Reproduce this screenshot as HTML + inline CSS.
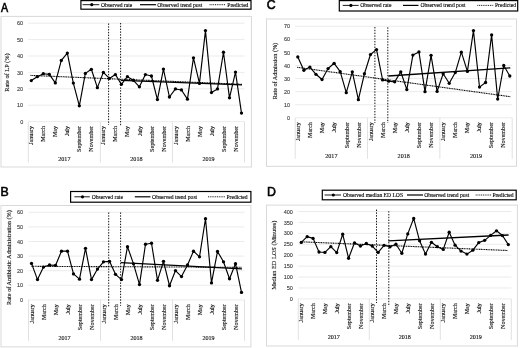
<!DOCTYPE html>
<html><head><meta charset="utf-8"><style>
html,body{margin:0;padding:0;background:#fff;width:520px;height:348px;overflow:hidden}
svg{display:block}
</style></head><body>
<svg width="520" height="348" viewBox="0 0 520 348">
<rect width="520" height="348" fill="#fff"/>
<g><rect x="1" y="16.4" width="250.4" height="150.6" fill="#fff" stroke="#d9d9d9" stroke-width="1"/><line x1="28.3" y1="121.6" x2="244.5" y2="121.6" stroke="#e3e3e3" stroke-width="0.7"/><text x="23.2" y="123.7" text-anchor="end" font-family='"Liberation Sans", Arial, sans-serif' font-size="5.5" fill="#383838" stroke="#383838" stroke-width="0.1">0</text><line x1="28.3" y1="105.2" x2="244.5" y2="105.2" stroke="#e3e3e3" stroke-width="0.7"/><text x="23.2" y="107.3" text-anchor="end" font-family='"Liberation Sans", Arial, sans-serif' font-size="5.5" fill="#383838" stroke="#383838" stroke-width="0.1">10</text><line x1="28.3" y1="88.8" x2="244.5" y2="88.8" stroke="#e3e3e3" stroke-width="0.7"/><text x="23.2" y="90.9" text-anchor="end" font-family='"Liberation Sans", Arial, sans-serif' font-size="5.5" fill="#383838" stroke="#383838" stroke-width="0.1">20</text><line x1="28.3" y1="72.4" x2="244.5" y2="72.4" stroke="#e3e3e3" stroke-width="0.7"/><text x="23.2" y="74.5" text-anchor="end" font-family='"Liberation Sans", Arial, sans-serif' font-size="5.5" fill="#383838" stroke="#383838" stroke-width="0.1">30</text><line x1="28.3" y1="56" x2="244.5" y2="56" stroke="#e3e3e3" stroke-width="0.7"/><text x="23.2" y="58.1" text-anchor="end" font-family='"Liberation Sans", Arial, sans-serif' font-size="5.5" fill="#383838" stroke="#383838" stroke-width="0.1">40</text><line x1="28.3" y1="39.6" x2="244.5" y2="39.6" stroke="#e3e3e3" stroke-width="0.7"/><text x="23.2" y="41.7" text-anchor="end" font-family='"Liberation Sans", Arial, sans-serif' font-size="5.5" fill="#383838" stroke="#383838" stroke-width="0.1">50</text><line x1="28.3" y1="23.2" x2="244.5" y2="23.2" stroke="#e3e3e3" stroke-width="0.7"/><text x="23.2" y="25.3" text-anchor="end" font-family='"Liberation Sans", Arial, sans-serif' font-size="5.5" fill="#383838" stroke="#383838" stroke-width="0.1">60</text><line x1="28.3" y1="121.6" x2="28.3" y2="162.6" stroke="#d9d9d9" stroke-width="0.8"/><line x1="100.37" y1="121.6" x2="100.37" y2="162.6" stroke="#d9d9d9" stroke-width="0.8"/><line x1="172.43" y1="121.6" x2="172.43" y2="162.6" stroke="#d9d9d9" stroke-width="0.8"/><line x1="244.5" y1="121.6" x2="244.5" y2="162.6" stroke="#d9d9d9" stroke-width="0.8"/><text transform="translate(33.4,125.9) rotate(-90)" text-anchor="end" font-family='"Liberation Serif", "Times New Roman", serif' font-size="6.1" fill="#1a1a1a" stroke="#1a1a1a" stroke-width="0.15">January</text><text transform="translate(45.41,125.9) rotate(-90)" text-anchor="end" font-family='"Liberation Serif", "Times New Roman", serif' font-size="6.1" fill="#1a1a1a" stroke="#1a1a1a" stroke-width="0.15">March</text><text transform="translate(57.43,125.9) rotate(-90)" text-anchor="end" font-family='"Liberation Serif", "Times New Roman", serif' font-size="6.1" fill="#1a1a1a" stroke="#1a1a1a" stroke-width="0.15">May</text><text transform="translate(69.44,125.9) rotate(-90)" text-anchor="end" font-family='"Liberation Serif", "Times New Roman", serif' font-size="6.1" fill="#1a1a1a" stroke="#1a1a1a" stroke-width="0.15">July</text><text transform="translate(81.45,125.9) rotate(-90)" text-anchor="end" font-family='"Liberation Serif", "Times New Roman", serif' font-size="6.1" fill="#1a1a1a" stroke="#1a1a1a" stroke-width="0.15">September</text><text transform="translate(93.46,125.9) rotate(-90)" text-anchor="end" font-family='"Liberation Serif", "Times New Roman", serif' font-size="6.1" fill="#1a1a1a" stroke="#1a1a1a" stroke-width="0.15">November</text><text x="64.33" y="161.4" text-anchor="middle" font-family='"Liberation Serif", "Times New Roman", serif' font-size="6.1" fill="#1a1a1a" stroke="#1a1a1a" stroke-width="0.15">2017</text><text transform="translate(105.47,125.9) rotate(-90)" text-anchor="end" font-family='"Liberation Serif", "Times New Roman", serif' font-size="6.1" fill="#1a1a1a" stroke="#1a1a1a" stroke-width="0.15">January</text><text transform="translate(117.48,125.9) rotate(-90)" text-anchor="end" font-family='"Liberation Serif", "Times New Roman", serif' font-size="6.1" fill="#1a1a1a" stroke="#1a1a1a" stroke-width="0.15">March</text><text transform="translate(129.49,125.9) rotate(-90)" text-anchor="end" font-family='"Liberation Serif", "Times New Roman", serif' font-size="6.1" fill="#1a1a1a" stroke="#1a1a1a" stroke-width="0.15">May</text><text transform="translate(141.5,125.9) rotate(-90)" text-anchor="end" font-family='"Liberation Serif", "Times New Roman", serif' font-size="6.1" fill="#1a1a1a" stroke="#1a1a1a" stroke-width="0.15">July</text><text transform="translate(153.51,125.9) rotate(-90)" text-anchor="end" font-family='"Liberation Serif", "Times New Roman", serif' font-size="6.1" fill="#1a1a1a" stroke="#1a1a1a" stroke-width="0.15">September</text><text transform="translate(165.53,125.9) rotate(-90)" text-anchor="end" font-family='"Liberation Serif", "Times New Roman", serif' font-size="6.1" fill="#1a1a1a" stroke="#1a1a1a" stroke-width="0.15">November</text><text x="136.4" y="161.4" text-anchor="middle" font-family='"Liberation Serif", "Times New Roman", serif' font-size="6.1" fill="#1a1a1a" stroke="#1a1a1a" stroke-width="0.15">2018</text><text transform="translate(177.54,125.9) rotate(-90)" text-anchor="end" font-family='"Liberation Serif", "Times New Roman", serif' font-size="6.1" fill="#1a1a1a" stroke="#1a1a1a" stroke-width="0.15">January</text><text transform="translate(189.55,125.9) rotate(-90)" text-anchor="end" font-family='"Liberation Serif", "Times New Roman", serif' font-size="6.1" fill="#1a1a1a" stroke="#1a1a1a" stroke-width="0.15">March</text><text transform="translate(201.56,125.9) rotate(-90)" text-anchor="end" font-family='"Liberation Serif", "Times New Roman", serif' font-size="6.1" fill="#1a1a1a" stroke="#1a1a1a" stroke-width="0.15">May</text><text transform="translate(213.57,125.9) rotate(-90)" text-anchor="end" font-family='"Liberation Serif", "Times New Roman", serif' font-size="6.1" fill="#1a1a1a" stroke="#1a1a1a" stroke-width="0.15">July</text><text transform="translate(225.58,125.9) rotate(-90)" text-anchor="end" font-family='"Liberation Serif", "Times New Roman", serif' font-size="6.1" fill="#1a1a1a" stroke="#1a1a1a" stroke-width="0.15">September</text><text transform="translate(237.59,125.9) rotate(-90)" text-anchor="end" font-family='"Liberation Serif", "Times New Roman", serif' font-size="6.1" fill="#1a1a1a" stroke="#1a1a1a" stroke-width="0.15">November</text><text x="208.47" y="161.4" text-anchor="middle" font-family='"Liberation Serif", "Times New Roman", serif' font-size="6.1" fill="#1a1a1a" stroke="#1a1a1a" stroke-width="0.15">2019</text><text transform="translate(9.1,72.6) rotate(-90)" text-anchor="middle" font-family='"Liberation Serif", "Times New Roman", serif' font-size="6.35" fill="#1a1a1a" stroke="#1a1a1a" stroke-width="0.15">Rate of LP (%)</text><line x1="108.6" y1="23.5" x2="108.6" y2="125" stroke="#111" stroke-width="1.0" stroke-dasharray="1.4,1.4"/><line x1="120.6" y1="23" x2="120.6" y2="125.2" stroke="#111" stroke-width="1.0" stroke-dasharray="1.4,1.4"/><line x1="30.5" y1="75.4" x2="242" y2="84.3" stroke="#000" stroke-width="1.1" stroke-dasharray="1.1,0.6"/><polyline fill="none" stroke="#000" stroke-width="1.15" stroke-linejoin="round" points="31.3,80.6 37.31,76.66 43.31,73.71 49.32,74.37 55.33,82.9 61.33,60.43 67.34,53.05 73.34,83.06 79.35,105.86 85.35,73.38 91.36,69.28 97.36,87.65 103.37,72.4 109.38,78.47 115.38,74.53 121.39,84.37 127.39,76.66 133.4,80.27 139.4,86.83 145.41,74.53 151.41,76.01 157.42,99.62 163.43,69.12 169.43,97 175.44,88.96 181.44,89.95 187.45,99.13 193.45,57.8 199.46,83.39 205.46,30.58 211.47,92.57 217.48,88.96 223.48,52.23 229.49,97.82 235.49,72.07 241.5,113.07"/><circle cx="31.3" cy="80.6" r="1.65" fill="#000"/><circle cx="37.31" cy="76.66" r="1.65" fill="#000"/><circle cx="43.31" cy="73.71" r="1.65" fill="#000"/><circle cx="49.32" cy="74.37" r="1.65" fill="#000"/><circle cx="55.33" cy="82.9" r="1.65" fill="#000"/><circle cx="61.33" cy="60.43" r="1.65" fill="#000"/><circle cx="67.34" cy="53.05" r="1.65" fill="#000"/><circle cx="73.34" cy="83.06" r="1.65" fill="#000"/><circle cx="79.35" cy="105.86" r="1.65" fill="#000"/><circle cx="85.35" cy="73.38" r="1.65" fill="#000"/><circle cx="91.36" cy="69.28" r="1.65" fill="#000"/><circle cx="97.36" cy="87.65" r="1.65" fill="#000"/><circle cx="103.37" cy="72.4" r="1.65" fill="#000"/><circle cx="109.38" cy="78.47" r="1.65" fill="#000"/><circle cx="115.38" cy="74.53" r="1.65" fill="#000"/><circle cx="121.39" cy="84.37" r="1.65" fill="#000"/><circle cx="127.39" cy="76.66" r="1.65" fill="#000"/><circle cx="133.4" cy="80.27" r="1.65" fill="#000"/><circle cx="139.4" cy="86.83" r="1.65" fill="#000"/><circle cx="145.41" cy="74.53" r="1.65" fill="#000"/><circle cx="151.41" cy="76.01" r="1.65" fill="#000"/><circle cx="157.42" cy="99.62" r="1.65" fill="#000"/><circle cx="163.43" cy="69.12" r="1.65" fill="#000"/><circle cx="169.43" cy="97" r="1.65" fill="#000"/><circle cx="175.44" cy="88.96" r="1.65" fill="#000"/><circle cx="181.44" cy="89.95" r="1.65" fill="#000"/><circle cx="187.45" cy="99.13" r="1.65" fill="#000"/><circle cx="193.45" cy="57.8" r="1.65" fill="#000"/><circle cx="199.46" cy="83.39" r="1.65" fill="#000"/><circle cx="205.46" cy="30.58" r="1.65" fill="#000"/><circle cx="211.47" cy="92.57" r="1.65" fill="#000"/><circle cx="217.48" cy="88.96" r="1.65" fill="#000"/><circle cx="223.48" cy="52.23" r="1.65" fill="#000"/><circle cx="229.49" cy="97.82" r="1.65" fill="#000"/><circle cx="235.49" cy="72.07" r="1.65" fill="#000"/><circle cx="241.5" cy="113.07" r="1.65" fill="#000"/><line x1="121" y1="80.4" x2="242" y2="84.8" stroke="#000" stroke-width="1.35"/><text transform="translate(1,12.4) scale(0.87,1)" font-family='"Liberation Sans", Arial, sans-serif' font-size="12.3" fill="#000" stroke="#000" stroke-width="0.6">A</text><rect x="80.9" y="0.6" width="170.1" height="8.6" fill="#fff" stroke="#000" stroke-width="1.2"/><line x1="82.6" y1="4.7" x2="99.3" y2="4.7" stroke="#000" stroke-width="0.9"/><circle cx="91.8" cy="4.7" r="1.6" fill="#000"/><line x1="140" y1="4.7" x2="156.1" y2="4.7" stroke="#000" stroke-width="1.2"/><line x1="209.6" y1="4.7" x2="225.4" y2="4.7" stroke="#000" stroke-width="0.9" stroke-dasharray="1,0.8"/><text x="101" y="6.6" font-family='"Liberation Serif", "Times New Roman", serif' font-size="5.6" fill="#000" stroke="#000" stroke-width="0.12">Observed rate</text><text x="157.3" y="6.6" font-family='"Liberation Serif", "Times New Roman", serif' font-size="5.6" fill="#000" stroke="#000" stroke-width="0.12">Observed trend post</text><text x="227.3" y="6.6" font-family='"Liberation Serif", "Times New Roman", serif' font-size="5.6" fill="#000" stroke="#000" stroke-width="0.12">Predicted</text></g>
<g><rect x="1" y="205.5" width="249.9" height="141.4" fill="#fff" stroke="#d9d9d9" stroke-width="1"/><line x1="28.5" y1="299.9" x2="244.5" y2="299.9" stroke="#e3e3e3" stroke-width="0.7"/><text x="23" y="302" text-anchor="end" font-family='"Liberation Sans", Arial, sans-serif' font-size="5.5" fill="#383838" stroke="#383838" stroke-width="0.1">0</text><line x1="28.5" y1="285.3" x2="244.5" y2="285.3" stroke="#e3e3e3" stroke-width="0.7"/><text x="23" y="287.4" text-anchor="end" font-family='"Liberation Sans", Arial, sans-serif' font-size="5.5" fill="#383838" stroke="#383838" stroke-width="0.1">10</text><line x1="28.5" y1="270.7" x2="244.5" y2="270.7" stroke="#e3e3e3" stroke-width="0.7"/><text x="23" y="272.8" text-anchor="end" font-family='"Liberation Sans", Arial, sans-serif' font-size="5.5" fill="#383838" stroke="#383838" stroke-width="0.1">20</text><line x1="28.5" y1="256.1" x2="244.5" y2="256.1" stroke="#e3e3e3" stroke-width="0.7"/><text x="23" y="258.2" text-anchor="end" font-family='"Liberation Sans", Arial, sans-serif' font-size="5.5" fill="#383838" stroke="#383838" stroke-width="0.1">30</text><line x1="28.5" y1="241.5" x2="244.5" y2="241.5" stroke="#e3e3e3" stroke-width="0.7"/><text x="23" y="243.6" text-anchor="end" font-family='"Liberation Sans", Arial, sans-serif' font-size="5.5" fill="#383838" stroke="#383838" stroke-width="0.1">40</text><line x1="28.5" y1="226.9" x2="244.5" y2="226.9" stroke="#e3e3e3" stroke-width="0.7"/><text x="23" y="229" text-anchor="end" font-family='"Liberation Sans", Arial, sans-serif' font-size="5.5" fill="#383838" stroke="#383838" stroke-width="0.1">50</text><line x1="28.5" y1="212.3" x2="244.5" y2="212.3" stroke="#e3e3e3" stroke-width="0.7"/><text x="23" y="214.4" text-anchor="end" font-family='"Liberation Sans", Arial, sans-serif' font-size="5.5" fill="#383838" stroke="#383838" stroke-width="0.1">60</text><line x1="28.5" y1="299.9" x2="28.5" y2="340.9" stroke="#d9d9d9" stroke-width="0.8"/><line x1="100.5" y1="299.9" x2="100.5" y2="340.9" stroke="#d9d9d9" stroke-width="0.8"/><line x1="172.5" y1="299.9" x2="172.5" y2="340.9" stroke="#d9d9d9" stroke-width="0.8"/><line x1="244.5" y1="299.9" x2="244.5" y2="340.9" stroke="#d9d9d9" stroke-width="0.8"/><text transform="translate(33.6,304.2) rotate(-90)" text-anchor="end" font-family='"Liberation Serif", "Times New Roman", serif' font-size="6.1" fill="#1a1a1a" stroke="#1a1a1a" stroke-width="0.15">January</text><text transform="translate(45.6,304.2) rotate(-90)" text-anchor="end" font-family='"Liberation Serif", "Times New Roman", serif' font-size="6.1" fill="#1a1a1a" stroke="#1a1a1a" stroke-width="0.15">March</text><text transform="translate(57.6,304.2) rotate(-90)" text-anchor="end" font-family='"Liberation Serif", "Times New Roman", serif' font-size="6.1" fill="#1a1a1a" stroke="#1a1a1a" stroke-width="0.15">May</text><text transform="translate(69.6,304.2) rotate(-90)" text-anchor="end" font-family='"Liberation Serif", "Times New Roman", serif' font-size="6.1" fill="#1a1a1a" stroke="#1a1a1a" stroke-width="0.15">July</text><text transform="translate(81.6,304.2) rotate(-90)" text-anchor="end" font-family='"Liberation Serif", "Times New Roman", serif' font-size="6.1" fill="#1a1a1a" stroke="#1a1a1a" stroke-width="0.15">September</text><text transform="translate(93.6,304.2) rotate(-90)" text-anchor="end" font-family='"Liberation Serif", "Times New Roman", serif' font-size="6.1" fill="#1a1a1a" stroke="#1a1a1a" stroke-width="0.15">November</text><text x="64.5" y="339.7" text-anchor="middle" font-family='"Liberation Serif", "Times New Roman", serif' font-size="6.1" fill="#1a1a1a" stroke="#1a1a1a" stroke-width="0.15">2017</text><text transform="translate(105.6,304.2) rotate(-90)" text-anchor="end" font-family='"Liberation Serif", "Times New Roman", serif' font-size="6.1" fill="#1a1a1a" stroke="#1a1a1a" stroke-width="0.15">January</text><text transform="translate(117.6,304.2) rotate(-90)" text-anchor="end" font-family='"Liberation Serif", "Times New Roman", serif' font-size="6.1" fill="#1a1a1a" stroke="#1a1a1a" stroke-width="0.15">March</text><text transform="translate(129.6,304.2) rotate(-90)" text-anchor="end" font-family='"Liberation Serif", "Times New Roman", serif' font-size="6.1" fill="#1a1a1a" stroke="#1a1a1a" stroke-width="0.15">May</text><text transform="translate(141.6,304.2) rotate(-90)" text-anchor="end" font-family='"Liberation Serif", "Times New Roman", serif' font-size="6.1" fill="#1a1a1a" stroke="#1a1a1a" stroke-width="0.15">July</text><text transform="translate(153.6,304.2) rotate(-90)" text-anchor="end" font-family='"Liberation Serif", "Times New Roman", serif' font-size="6.1" fill="#1a1a1a" stroke="#1a1a1a" stroke-width="0.15">September</text><text transform="translate(165.6,304.2) rotate(-90)" text-anchor="end" font-family='"Liberation Serif", "Times New Roman", serif' font-size="6.1" fill="#1a1a1a" stroke="#1a1a1a" stroke-width="0.15">November</text><text x="136.5" y="339.7" text-anchor="middle" font-family='"Liberation Serif", "Times New Roman", serif' font-size="6.1" fill="#1a1a1a" stroke="#1a1a1a" stroke-width="0.15">2018</text><text transform="translate(177.6,304.2) rotate(-90)" text-anchor="end" font-family='"Liberation Serif", "Times New Roman", serif' font-size="6.1" fill="#1a1a1a" stroke="#1a1a1a" stroke-width="0.15">January</text><text transform="translate(189.6,304.2) rotate(-90)" text-anchor="end" font-family='"Liberation Serif", "Times New Roman", serif' font-size="6.1" fill="#1a1a1a" stroke="#1a1a1a" stroke-width="0.15">March</text><text transform="translate(201.6,304.2) rotate(-90)" text-anchor="end" font-family='"Liberation Serif", "Times New Roman", serif' font-size="6.1" fill="#1a1a1a" stroke="#1a1a1a" stroke-width="0.15">May</text><text transform="translate(213.6,304.2) rotate(-90)" text-anchor="end" font-family='"Liberation Serif", "Times New Roman", serif' font-size="6.1" fill="#1a1a1a" stroke="#1a1a1a" stroke-width="0.15">July</text><text transform="translate(225.6,304.2) rotate(-90)" text-anchor="end" font-family='"Liberation Serif", "Times New Roman", serif' font-size="6.1" fill="#1a1a1a" stroke="#1a1a1a" stroke-width="0.15">September</text><text transform="translate(237.6,304.2) rotate(-90)" text-anchor="end" font-family='"Liberation Serif", "Times New Roman", serif' font-size="6.1" fill="#1a1a1a" stroke="#1a1a1a" stroke-width="0.15">November</text><text x="208.5" y="339.7" text-anchor="middle" font-family='"Liberation Serif", "Times New Roman", serif' font-size="6.1" fill="#1a1a1a" stroke="#1a1a1a" stroke-width="0.15">2019</text><text transform="translate(11.1,257.5) rotate(-90)" text-anchor="middle" font-family='"Liberation Serif", "Times New Roman", serif' font-size="6.25" fill="#1a1a1a" stroke="#1a1a1a" stroke-width="0.15">Rate of Antibiotic Administration (%)</text><line x1="108.7" y1="212.5" x2="108.7" y2="306.8" stroke="#111" stroke-width="1.0" stroke-dasharray="1.4,1.4"/><line x1="120.6" y1="212.5" x2="120.6" y2="305.8" stroke="#111" stroke-width="1.0" stroke-dasharray="1.4,1.4"/><line x1="31.3" y1="266.3" x2="242" y2="267.3" stroke="#000" stroke-width="1.1" stroke-dasharray="1.1,0.6"/><polyline fill="none" stroke="#000" stroke-width="1.15" stroke-linejoin="round" points="31.5,263.4 37.5,279.61 43.5,267.05 49.5,265.01 55.5,265.44 61.5,251.14 67.5,251.14 73.5,273.91 79.5,279.17 85.5,248.36 91.5,279.61 97.5,269.09 103.5,261.79 109.5,261.36 115.5,274.35 121.5,279.61 127.5,246.76 133.5,263.84 139.5,284.57 145.5,244.27 151.5,243.25 157.5,280.34 163.5,261.36 169.5,285.74 175.5,270.55 181.5,276.54 187.5,265.01 193.5,251.14 199.5,256.83 205.5,218.72 211.5,282.96 217.5,251.43 223.5,261.79 229.5,278.73 235.5,263.69 241.5,292.45"/><circle cx="31.5" cy="263.4" r="1.65" fill="#000"/><circle cx="37.5" cy="279.61" r="1.65" fill="#000"/><circle cx="43.5" cy="267.05" r="1.65" fill="#000"/><circle cx="49.5" cy="265.01" r="1.65" fill="#000"/><circle cx="55.5" cy="265.44" r="1.65" fill="#000"/><circle cx="61.5" cy="251.14" r="1.65" fill="#000"/><circle cx="67.5" cy="251.14" r="1.65" fill="#000"/><circle cx="73.5" cy="273.91" r="1.65" fill="#000"/><circle cx="79.5" cy="279.17" r="1.65" fill="#000"/><circle cx="85.5" cy="248.36" r="1.65" fill="#000"/><circle cx="91.5" cy="279.61" r="1.65" fill="#000"/><circle cx="97.5" cy="269.09" r="1.65" fill="#000"/><circle cx="103.5" cy="261.79" r="1.65" fill="#000"/><circle cx="109.5" cy="261.36" r="1.65" fill="#000"/><circle cx="115.5" cy="274.35" r="1.65" fill="#000"/><circle cx="121.5" cy="279.61" r="1.65" fill="#000"/><circle cx="127.5" cy="246.76" r="1.65" fill="#000"/><circle cx="133.5" cy="263.84" r="1.65" fill="#000"/><circle cx="139.5" cy="284.57" r="1.65" fill="#000"/><circle cx="145.5" cy="244.27" r="1.65" fill="#000"/><circle cx="151.5" cy="243.25" r="1.65" fill="#000"/><circle cx="157.5" cy="280.34" r="1.65" fill="#000"/><circle cx="163.5" cy="261.36" r="1.65" fill="#000"/><circle cx="169.5" cy="285.74" r="1.65" fill="#000"/><circle cx="175.5" cy="270.55" r="1.65" fill="#000"/><circle cx="181.5" cy="276.54" r="1.65" fill="#000"/><circle cx="187.5" cy="265.01" r="1.65" fill="#000"/><circle cx="193.5" cy="251.14" r="1.65" fill="#000"/><circle cx="199.5" cy="256.83" r="1.65" fill="#000"/><circle cx="205.5" cy="218.72" r="1.65" fill="#000"/><circle cx="211.5" cy="282.96" r="1.65" fill="#000"/><circle cx="217.5" cy="251.43" r="1.65" fill="#000"/><circle cx="223.5" cy="261.79" r="1.65" fill="#000"/><circle cx="229.5" cy="278.73" r="1.65" fill="#000"/><circle cx="235.5" cy="263.69" r="1.65" fill="#000"/><circle cx="241.5" cy="292.45" r="1.65" fill="#000"/><line x1="120.8" y1="262.6" x2="242" y2="268.8" stroke="#000" stroke-width="1.35"/><text transform="translate(0.6,195.7) scale(1,1)" font-family='"Liberation Sans", Arial, sans-serif' font-size="12.3" fill="#000" stroke="#000" stroke-width="0.6">B</text><rect x="70.6" y="191.5" width="180.3" height="10.7" fill="#fff" stroke="#000" stroke-width="1.2"/><line x1="74.4" y1="196.8" x2="89.8" y2="196.8" stroke="#000" stroke-width="0.9"/><circle cx="82.5" cy="196.8" r="1.6" fill="#000"/><line x1="134.8" y1="196.8" x2="150.4" y2="196.8" stroke="#000" stroke-width="1.2"/><line x1="208" y1="196.8" x2="225" y2="196.8" stroke="#000" stroke-width="0.9" stroke-dasharray="1,0.8"/><text x="91.7" y="198.7" font-family='"Liberation Serif", "Times New Roman", serif' font-size="5.6" fill="#000" stroke="#000" stroke-width="0.12">Observed rate</text><text x="152.1" y="198.7" font-family='"Liberation Serif", "Times New Roman", serif' font-size="5.6" fill="#000" stroke="#000" stroke-width="0.12">Observed trend post</text><text x="226.5" y="198.7" font-family='"Liberation Serif", "Times New Roman", serif' font-size="5.6" fill="#000" stroke="#000" stroke-width="0.12">Predicted</text></g>
<g><rect x="266.5" y="19" width="250" height="147.3" fill="#fff" stroke="#d9d9d9" stroke-width="1"/><line x1="295.2" y1="117.8" x2="512.2" y2="117.8" stroke="#e3e3e3" stroke-width="0.7"/><text x="290" y="119.9" text-anchor="end" font-family='"Liberation Sans", Arial, sans-serif' font-size="5.5" fill="#383838" stroke="#383838" stroke-width="0.1">0</text><line x1="295.2" y1="104.73" x2="512.2" y2="104.73" stroke="#e3e3e3" stroke-width="0.7"/><text x="290" y="106.83" text-anchor="end" font-family='"Liberation Sans", Arial, sans-serif' font-size="5.5" fill="#383838" stroke="#383838" stroke-width="0.1">10</text><line x1="295.2" y1="91.66" x2="512.2" y2="91.66" stroke="#e3e3e3" stroke-width="0.7"/><text x="290" y="93.76" text-anchor="end" font-family='"Liberation Sans", Arial, sans-serif' font-size="5.5" fill="#383838" stroke="#383838" stroke-width="0.1">20</text><line x1="295.2" y1="78.59" x2="512.2" y2="78.59" stroke="#e3e3e3" stroke-width="0.7"/><text x="290" y="80.69" text-anchor="end" font-family='"Liberation Sans", Arial, sans-serif' font-size="5.5" fill="#383838" stroke="#383838" stroke-width="0.1">30</text><line x1="295.2" y1="65.52" x2="512.2" y2="65.52" stroke="#e3e3e3" stroke-width="0.7"/><text x="290" y="67.62" text-anchor="end" font-family='"Liberation Sans", Arial, sans-serif' font-size="5.5" fill="#383838" stroke="#383838" stroke-width="0.1">40</text><line x1="295.2" y1="52.45" x2="512.2" y2="52.45" stroke="#e3e3e3" stroke-width="0.7"/><text x="290" y="54.55" text-anchor="end" font-family='"Liberation Sans", Arial, sans-serif' font-size="5.5" fill="#383838" stroke="#383838" stroke-width="0.1">50</text><line x1="295.2" y1="39.38" x2="512.2" y2="39.38" stroke="#e3e3e3" stroke-width="0.7"/><text x="290" y="41.48" text-anchor="end" font-family='"Liberation Sans", Arial, sans-serif' font-size="5.5" fill="#383838" stroke="#383838" stroke-width="0.1">60</text><line x1="295.2" y1="26.31" x2="512.2" y2="26.31" stroke="#e3e3e3" stroke-width="0.7"/><text x="290" y="28.41" text-anchor="end" font-family='"Liberation Sans", Arial, sans-serif' font-size="5.5" fill="#383838" stroke="#383838" stroke-width="0.1">70</text><line x1="295.2" y1="117.8" x2="295.2" y2="158.8" stroke="#d9d9d9" stroke-width="0.8"/><line x1="367.53" y1="117.8" x2="367.53" y2="158.8" stroke="#d9d9d9" stroke-width="0.8"/><line x1="439.87" y1="117.8" x2="439.87" y2="158.8" stroke="#d9d9d9" stroke-width="0.8"/><line x1="512.2" y1="117.8" x2="512.2" y2="158.8" stroke="#d9d9d9" stroke-width="0.8"/><text transform="translate(300.31,122.1) rotate(-90)" text-anchor="end" font-family='"Liberation Serif", "Times New Roman", serif' font-size="6.1" fill="#1a1a1a" stroke="#1a1a1a" stroke-width="0.15">January</text><text transform="translate(312.37,122.1) rotate(-90)" text-anchor="end" font-family='"Liberation Serif", "Times New Roman", serif' font-size="6.1" fill="#1a1a1a" stroke="#1a1a1a" stroke-width="0.15">March</text><text transform="translate(324.43,122.1) rotate(-90)" text-anchor="end" font-family='"Liberation Serif", "Times New Roman", serif' font-size="6.1" fill="#1a1a1a" stroke="#1a1a1a" stroke-width="0.15">May</text><text transform="translate(336.48,122.1) rotate(-90)" text-anchor="end" font-family='"Liberation Serif", "Times New Roman", serif' font-size="6.1" fill="#1a1a1a" stroke="#1a1a1a" stroke-width="0.15">July</text><text transform="translate(348.54,122.1) rotate(-90)" text-anchor="end" font-family='"Liberation Serif", "Times New Roman", serif' font-size="6.1" fill="#1a1a1a" stroke="#1a1a1a" stroke-width="0.15">September</text><text transform="translate(360.59,122.1) rotate(-90)" text-anchor="end" font-family='"Liberation Serif", "Times New Roman", serif' font-size="6.1" fill="#1a1a1a" stroke="#1a1a1a" stroke-width="0.15">November</text><text x="331.37" y="157.6" text-anchor="middle" font-family='"Liberation Serif", "Times New Roman", serif' font-size="6.1" fill="#1a1a1a" stroke="#1a1a1a" stroke-width="0.15">2017</text><text transform="translate(372.65,122.1) rotate(-90)" text-anchor="end" font-family='"Liberation Serif", "Times New Roman", serif' font-size="6.1" fill="#1a1a1a" stroke="#1a1a1a" stroke-width="0.15">January</text><text transform="translate(384.7,122.1) rotate(-90)" text-anchor="end" font-family='"Liberation Serif", "Times New Roman", serif' font-size="6.1" fill="#1a1a1a" stroke="#1a1a1a" stroke-width="0.15">March</text><text transform="translate(396.76,122.1) rotate(-90)" text-anchor="end" font-family='"Liberation Serif", "Times New Roman", serif' font-size="6.1" fill="#1a1a1a" stroke="#1a1a1a" stroke-width="0.15">May</text><text transform="translate(408.81,122.1) rotate(-90)" text-anchor="end" font-family='"Liberation Serif", "Times New Roman", serif' font-size="6.1" fill="#1a1a1a" stroke="#1a1a1a" stroke-width="0.15">July</text><text transform="translate(420.87,122.1) rotate(-90)" text-anchor="end" font-family='"Liberation Serif", "Times New Roman", serif' font-size="6.1" fill="#1a1a1a" stroke="#1a1a1a" stroke-width="0.15">September</text><text transform="translate(432.93,122.1) rotate(-90)" text-anchor="end" font-family='"Liberation Serif", "Times New Roman", serif' font-size="6.1" fill="#1a1a1a" stroke="#1a1a1a" stroke-width="0.15">November</text><text x="403.7" y="157.6" text-anchor="middle" font-family='"Liberation Serif", "Times New Roman", serif' font-size="6.1" fill="#1a1a1a" stroke="#1a1a1a" stroke-width="0.15">2018</text><text transform="translate(444.98,122.1) rotate(-90)" text-anchor="end" font-family='"Liberation Serif", "Times New Roman", serif' font-size="6.1" fill="#1a1a1a" stroke="#1a1a1a" stroke-width="0.15">January</text><text transform="translate(457.04,122.1) rotate(-90)" text-anchor="end" font-family='"Liberation Serif", "Times New Roman", serif' font-size="6.1" fill="#1a1a1a" stroke="#1a1a1a" stroke-width="0.15">March</text><text transform="translate(469.09,122.1) rotate(-90)" text-anchor="end" font-family='"Liberation Serif", "Times New Roman", serif' font-size="6.1" fill="#1a1a1a" stroke="#1a1a1a" stroke-width="0.15">May</text><text transform="translate(481.15,122.1) rotate(-90)" text-anchor="end" font-family='"Liberation Serif", "Times New Roman", serif' font-size="6.1" fill="#1a1a1a" stroke="#1a1a1a" stroke-width="0.15">July</text><text transform="translate(493.2,122.1) rotate(-90)" text-anchor="end" font-family='"Liberation Serif", "Times New Roman", serif' font-size="6.1" fill="#1a1a1a" stroke="#1a1a1a" stroke-width="0.15">September</text><text transform="translate(505.26,122.1) rotate(-90)" text-anchor="end" font-family='"Liberation Serif", "Times New Roman", serif' font-size="6.1" fill="#1a1a1a" stroke="#1a1a1a" stroke-width="0.15">November</text><text x="476.03" y="157.6" text-anchor="middle" font-family='"Liberation Serif", "Times New Roman", serif' font-size="6.1" fill="#1a1a1a" stroke="#1a1a1a" stroke-width="0.15">2019</text><text transform="translate(276.8,71.1) rotate(-90)" text-anchor="middle" font-family='"Liberation Serif", "Times New Roman", serif' font-size="6.15" fill="#1a1a1a" stroke="#1a1a1a" stroke-width="0.15">Rate of Admission (%)</text><line x1="374.9" y1="27" x2="374.9" y2="123" stroke="#111" stroke-width="1.0" stroke-dasharray="1.4,1.4"/><line x1="387.8" y1="27.3" x2="387.8" y2="123" stroke="#111" stroke-width="1.0" stroke-dasharray="1.4,1.4"/><line x1="297.2" y1="67.3" x2="510.3" y2="96.7" stroke="#000" stroke-width="1.1" stroke-dasharray="1.1,0.6"/><polyline fill="none" stroke="#000" stroke-width="1.15" stroke-linejoin="round" points="297.8,56.89 303.86,70.23 309.91,67.09 315.97,74.28 322.03,79.5 328.09,68.53 334.14,63.3 340.2,71.66 346.26,92.71 352.31,71.79 358.37,99.63 364.43,73.75 370.48,54.54 376.54,49.57 382.6,79.9 388.66,81.2 394.71,81.86 400.77,71.79 406.83,89.57 412.88,55.06 418.94,51.93 425,91.66 431.05,55.33 437.11,91.4 443.17,73.75 449.23,83.3 455.28,72.58 461.34,52.19 467.4,71.4 473.45,30.62 479.51,87.09 485.57,82.51 491.62,34.94 497.68,99.11 503.74,65.52 509.8,75.98"/><circle cx="297.8" cy="56.89" r="1.65" fill="#000"/><circle cx="303.86" cy="70.23" r="1.65" fill="#000"/><circle cx="309.91" cy="67.09" r="1.65" fill="#000"/><circle cx="315.97" cy="74.28" r="1.65" fill="#000"/><circle cx="322.03" cy="79.5" r="1.65" fill="#000"/><circle cx="328.09" cy="68.53" r="1.65" fill="#000"/><circle cx="334.14" cy="63.3" r="1.65" fill="#000"/><circle cx="340.2" cy="71.66" r="1.65" fill="#000"/><circle cx="346.26" cy="92.71" r="1.65" fill="#000"/><circle cx="352.31" cy="71.79" r="1.65" fill="#000"/><circle cx="358.37" cy="99.63" r="1.65" fill="#000"/><circle cx="364.43" cy="73.75" r="1.65" fill="#000"/><circle cx="370.48" cy="54.54" r="1.65" fill="#000"/><circle cx="376.54" cy="49.57" r="1.65" fill="#000"/><circle cx="382.6" cy="79.9" r="1.65" fill="#000"/><circle cx="388.66" cy="81.2" r="1.65" fill="#000"/><circle cx="394.71" cy="81.86" r="1.65" fill="#000"/><circle cx="400.77" cy="71.79" r="1.65" fill="#000"/><circle cx="406.83" cy="89.57" r="1.65" fill="#000"/><circle cx="412.88" cy="55.06" r="1.65" fill="#000"/><circle cx="418.94" cy="51.93" r="1.65" fill="#000"/><circle cx="425" cy="91.66" r="1.65" fill="#000"/><circle cx="431.05" cy="55.33" r="1.65" fill="#000"/><circle cx="437.11" cy="91.4" r="1.65" fill="#000"/><circle cx="443.17" cy="73.75" r="1.65" fill="#000"/><circle cx="449.23" cy="83.3" r="1.65" fill="#000"/><circle cx="455.28" cy="72.58" r="1.65" fill="#000"/><circle cx="461.34" cy="52.19" r="1.65" fill="#000"/><circle cx="467.4" cy="71.4" r="1.65" fill="#000"/><circle cx="473.45" cy="30.62" r="1.65" fill="#000"/><circle cx="479.51" cy="87.09" r="1.65" fill="#000"/><circle cx="485.57" cy="82.51" r="1.65" fill="#000"/><circle cx="491.62" cy="34.94" r="1.65" fill="#000"/><circle cx="497.68" cy="99.11" r="1.65" fill="#000"/><circle cx="503.74" cy="65.52" r="1.65" fill="#000"/><circle cx="509.8" cy="75.98" r="1.65" fill="#000"/><line x1="388.3" y1="76" x2="510.3" y2="67.8" stroke="#000" stroke-width="1.35"/><text transform="translate(266.8,9.2) scale(1,1)" font-family='"Liberation Sans", Arial, sans-serif' font-size="12.3" fill="#000" stroke="#000" stroke-width="0.6">C</text><rect x="339.3" y="0.6" width="178.4" height="10.4" fill="#fff" stroke="#000" stroke-width="1.2"/><line x1="342.7" y1="5.4" x2="358.6" y2="5.4" stroke="#000" stroke-width="0.9"/><circle cx="350.9" cy="5.4" r="1.6" fill="#000"/><line x1="403" y1="5.4" x2="418.5" y2="5.4" stroke="#000" stroke-width="1.2"/><line x1="477.3" y1="5.4" x2="493.7" y2="5.4" stroke="#000" stroke-width="0.9" stroke-dasharray="1,0.8"/><text x="360.2" y="7.3" font-family='"Liberation Serif", "Times New Roman", serif' font-size="5.6" fill="#000" stroke="#000" stroke-width="0.12">Observed rate</text><text x="420.4" y="7.3" font-family='"Liberation Serif", "Times New Roman", serif' font-size="5.6" fill="#000" stroke="#000" stroke-width="0.12">Observed trend post</text><text x="495" y="7.3" font-family='"Liberation Serif", "Times New Roman", serif' font-size="5.6" fill="#000" stroke="#000" stroke-width="0.12">Predicted</text></g>
<g><rect x="266.5" y="205.1" width="250.9" height="140.9" fill="#fff" stroke="#d9d9d9" stroke-width="1"/><line x1="298.3" y1="298.9" x2="511.3" y2="298.9" stroke="#e3e3e3" stroke-width="0.7"/><text x="292.9" y="301" text-anchor="end" font-family='"Liberation Sans", Arial, sans-serif' font-size="5.5" fill="#383838" stroke="#383838" stroke-width="0.1">0</text><line x1="298.3" y1="287.97" x2="511.3" y2="287.97" stroke="#e3e3e3" stroke-width="0.7"/><text x="292.9" y="290.07" text-anchor="end" font-family='"Liberation Sans", Arial, sans-serif' font-size="5.5" fill="#383838" stroke="#383838" stroke-width="0.1">50</text><line x1="298.3" y1="277.05" x2="511.3" y2="277.05" stroke="#e3e3e3" stroke-width="0.7"/><text x="292.9" y="279.15" text-anchor="end" font-family='"Liberation Sans", Arial, sans-serif' font-size="5.5" fill="#383838" stroke="#383838" stroke-width="0.1">100</text><line x1="298.3" y1="266.12" x2="511.3" y2="266.12" stroke="#e3e3e3" stroke-width="0.7"/><text x="292.9" y="268.23" text-anchor="end" font-family='"Liberation Sans", Arial, sans-serif' font-size="5.5" fill="#383838" stroke="#383838" stroke-width="0.1">150</text><line x1="298.3" y1="255.2" x2="511.3" y2="255.2" stroke="#e3e3e3" stroke-width="0.7"/><text x="292.9" y="257.3" text-anchor="end" font-family='"Liberation Sans", Arial, sans-serif' font-size="5.5" fill="#383838" stroke="#383838" stroke-width="0.1">200</text><line x1="298.3" y1="244.27" x2="511.3" y2="244.27" stroke="#e3e3e3" stroke-width="0.7"/><text x="292.9" y="246.37" text-anchor="end" font-family='"Liberation Sans", Arial, sans-serif' font-size="5.5" fill="#383838" stroke="#383838" stroke-width="0.1">250</text><line x1="298.3" y1="233.35" x2="511.3" y2="233.35" stroke="#e3e3e3" stroke-width="0.7"/><text x="292.9" y="235.45" text-anchor="end" font-family='"Liberation Sans", Arial, sans-serif' font-size="5.5" fill="#383838" stroke="#383838" stroke-width="0.1">300</text><line x1="298.3" y1="222.42" x2="511.3" y2="222.42" stroke="#e3e3e3" stroke-width="0.7"/><text x="292.9" y="224.52" text-anchor="end" font-family='"Liberation Sans", Arial, sans-serif' font-size="5.5" fill="#383838" stroke="#383838" stroke-width="0.1">350</text><line x1="298.3" y1="211.5" x2="511.3" y2="211.5" stroke="#e3e3e3" stroke-width="0.7"/><text x="292.9" y="213.6" text-anchor="end" font-family='"Liberation Sans", Arial, sans-serif' font-size="5.5" fill="#383838" stroke="#383838" stroke-width="0.1">400</text><line x1="298.3" y1="298.9" x2="298.3" y2="339.9" stroke="#d9d9d9" stroke-width="0.8"/><line x1="369.3" y1="298.9" x2="369.3" y2="339.9" stroke="#d9d9d9" stroke-width="0.8"/><line x1="440.3" y1="298.9" x2="440.3" y2="339.9" stroke="#d9d9d9" stroke-width="0.8"/><line x1="511.3" y1="298.9" x2="511.3" y2="339.9" stroke="#d9d9d9" stroke-width="0.8"/><text transform="translate(303.36,303.2) rotate(-90)" text-anchor="end" font-family='"Liberation Serif", "Times New Roman", serif' font-size="6.1" fill="#1a1a1a" stroke="#1a1a1a" stroke-width="0.15">January</text><text transform="translate(315.19,303.2) rotate(-90)" text-anchor="end" font-family='"Liberation Serif", "Times New Roman", serif' font-size="6.1" fill="#1a1a1a" stroke="#1a1a1a" stroke-width="0.15">March</text><text transform="translate(327.03,303.2) rotate(-90)" text-anchor="end" font-family='"Liberation Serif", "Times New Roman", serif' font-size="6.1" fill="#1a1a1a" stroke="#1a1a1a" stroke-width="0.15">May</text><text transform="translate(338.86,303.2) rotate(-90)" text-anchor="end" font-family='"Liberation Serif", "Times New Roman", serif' font-size="6.1" fill="#1a1a1a" stroke="#1a1a1a" stroke-width="0.15">July</text><text transform="translate(350.69,303.2) rotate(-90)" text-anchor="end" font-family='"Liberation Serif", "Times New Roman", serif' font-size="6.1" fill="#1a1a1a" stroke="#1a1a1a" stroke-width="0.15">September</text><text transform="translate(362.53,303.2) rotate(-90)" text-anchor="end" font-family='"Liberation Serif", "Times New Roman", serif' font-size="6.1" fill="#1a1a1a" stroke="#1a1a1a" stroke-width="0.15">November</text><text x="333.8" y="338.7" text-anchor="middle" font-family='"Liberation Serif", "Times New Roman", serif' font-size="6.1" fill="#1a1a1a" stroke="#1a1a1a" stroke-width="0.15">2017</text><text transform="translate(374.36,303.2) rotate(-90)" text-anchor="end" font-family='"Liberation Serif", "Times New Roman", serif' font-size="6.1" fill="#1a1a1a" stroke="#1a1a1a" stroke-width="0.15">January</text><text transform="translate(386.19,303.2) rotate(-90)" text-anchor="end" font-family='"Liberation Serif", "Times New Roman", serif' font-size="6.1" fill="#1a1a1a" stroke="#1a1a1a" stroke-width="0.15">March</text><text transform="translate(398.03,303.2) rotate(-90)" text-anchor="end" font-family='"Liberation Serif", "Times New Roman", serif' font-size="6.1" fill="#1a1a1a" stroke="#1a1a1a" stroke-width="0.15">May</text><text transform="translate(409.86,303.2) rotate(-90)" text-anchor="end" font-family='"Liberation Serif", "Times New Roman", serif' font-size="6.1" fill="#1a1a1a" stroke="#1a1a1a" stroke-width="0.15">July</text><text transform="translate(421.69,303.2) rotate(-90)" text-anchor="end" font-family='"Liberation Serif", "Times New Roman", serif' font-size="6.1" fill="#1a1a1a" stroke="#1a1a1a" stroke-width="0.15">September</text><text transform="translate(433.53,303.2) rotate(-90)" text-anchor="end" font-family='"Liberation Serif", "Times New Roman", serif' font-size="6.1" fill="#1a1a1a" stroke="#1a1a1a" stroke-width="0.15">November</text><text x="404.8" y="338.7" text-anchor="middle" font-family='"Liberation Serif", "Times New Roman", serif' font-size="6.1" fill="#1a1a1a" stroke="#1a1a1a" stroke-width="0.15">2018</text><text transform="translate(445.36,303.2) rotate(-90)" text-anchor="end" font-family='"Liberation Serif", "Times New Roman", serif' font-size="6.1" fill="#1a1a1a" stroke="#1a1a1a" stroke-width="0.15">January</text><text transform="translate(457.19,303.2) rotate(-90)" text-anchor="end" font-family='"Liberation Serif", "Times New Roman", serif' font-size="6.1" fill="#1a1a1a" stroke="#1a1a1a" stroke-width="0.15">March</text><text transform="translate(469.03,303.2) rotate(-90)" text-anchor="end" font-family='"Liberation Serif", "Times New Roman", serif' font-size="6.1" fill="#1a1a1a" stroke="#1a1a1a" stroke-width="0.15">May</text><text transform="translate(480.86,303.2) rotate(-90)" text-anchor="end" font-family='"Liberation Serif", "Times New Roman", serif' font-size="6.1" fill="#1a1a1a" stroke="#1a1a1a" stroke-width="0.15">July</text><text transform="translate(492.69,303.2) rotate(-90)" text-anchor="end" font-family='"Liberation Serif", "Times New Roman", serif' font-size="6.1" fill="#1a1a1a" stroke="#1a1a1a" stroke-width="0.15">September</text><text transform="translate(504.53,303.2) rotate(-90)" text-anchor="end" font-family='"Liberation Serif", "Times New Roman", serif' font-size="6.1" fill="#1a1a1a" stroke="#1a1a1a" stroke-width="0.15">November</text><text x="475.8" y="338.7" text-anchor="middle" font-family='"Liberation Serif", "Times New Roman", serif' font-size="6.1" fill="#1a1a1a" stroke="#1a1a1a" stroke-width="0.15">2019</text><text transform="translate(276.1,255.3) rotate(-90)" text-anchor="middle" font-family='"Liberation Serif", "Times New Roman", serif' font-size="6.3" fill="#1a1a1a" stroke="#1a1a1a" stroke-width="0.15">Median ED LOS (Minutes)</text><line x1="376.5" y1="209.6" x2="376.5" y2="303" stroke="#111" stroke-width="1.0" stroke-dasharray="1.4,1.4"/><line x1="388.8" y1="211.2" x2="388.8" y2="306.5" stroke="#111" stroke-width="1.0" stroke-dasharray="1.4,1.4"/><line x1="300.7" y1="241.8" x2="508" y2="250.5" stroke="#000" stroke-width="1.1" stroke-dasharray="1.1,0.6"/><polyline fill="none" stroke="#000" stroke-width="1.15" stroke-linejoin="round" points="301.26,242.4 307.18,236.63 313.09,238.38 319.01,252.01 324.93,252.4 330.84,246.68 336.76,252.58 342.68,234.22 348.59,258.26 354.51,242.81 360.43,246.02 366.34,243.51 372.26,246.02 378.18,252.4 384.09,245.37 390.01,246.79 395.93,244.27 401.84,253.23 407.76,233.9 413.68,218.38 419.59,240.78 425.51,254.11 431.43,242.31 437.34,246.68 443.26,249.41 449.18,232.26 455.09,245.15 461.01,251.05 466.93,254.11 472.84,250.17 478.76,242.53 484.68,240.34 490.59,235.4 496.51,230.79 502.43,235.53 508.34,244.6"/><circle cx="301.26" cy="242.4" r="1.65" fill="#000"/><circle cx="307.18" cy="236.63" r="1.65" fill="#000"/><circle cx="313.09" cy="238.38" r="1.65" fill="#000"/><circle cx="319.01" cy="252.01" r="1.65" fill="#000"/><circle cx="324.93" cy="252.4" r="1.65" fill="#000"/><circle cx="330.84" cy="246.68" r="1.65" fill="#000"/><circle cx="336.76" cy="252.58" r="1.65" fill="#000"/><circle cx="342.68" cy="234.22" r="1.65" fill="#000"/><circle cx="348.59" cy="258.26" r="1.65" fill="#000"/><circle cx="354.51" cy="242.81" r="1.65" fill="#000"/><circle cx="360.43" cy="246.02" r="1.65" fill="#000"/><circle cx="366.34" cy="243.51" r="1.65" fill="#000"/><circle cx="372.26" cy="246.02" r="1.65" fill="#000"/><circle cx="378.18" cy="252.4" r="1.65" fill="#000"/><circle cx="384.09" cy="245.37" r="1.65" fill="#000"/><circle cx="390.01" cy="246.79" r="1.65" fill="#000"/><circle cx="395.93" cy="244.27" r="1.65" fill="#000"/><circle cx="401.84" cy="253.23" r="1.65" fill="#000"/><circle cx="407.76" cy="233.9" r="1.65" fill="#000"/><circle cx="413.68" cy="218.38" r="1.65" fill="#000"/><circle cx="419.59" cy="240.78" r="1.65" fill="#000"/><circle cx="425.51" cy="254.11" r="1.65" fill="#000"/><circle cx="431.43" cy="242.31" r="1.65" fill="#000"/><circle cx="437.34" cy="246.68" r="1.65" fill="#000"/><circle cx="443.26" cy="249.41" r="1.65" fill="#000"/><circle cx="449.18" cy="232.26" r="1.65" fill="#000"/><circle cx="455.09" cy="245.15" r="1.65" fill="#000"/><circle cx="461.01" cy="251.05" r="1.65" fill="#000"/><circle cx="466.93" cy="254.11" r="1.65" fill="#000"/><circle cx="472.84" cy="250.17" r="1.65" fill="#000"/><circle cx="478.76" cy="242.53" r="1.65" fill="#000"/><circle cx="484.68" cy="240.34" r="1.65" fill="#000"/><circle cx="490.59" cy="235.4" r="1.65" fill="#000"/><circle cx="496.51" cy="230.79" r="1.65" fill="#000"/><circle cx="502.43" cy="235.53" r="1.65" fill="#000"/><circle cx="508.34" cy="244.6" r="1.65" fill="#000"/><line x1="388.3" y1="240.8" x2="508.6" y2="235" stroke="#000" stroke-width="1.35"/><text transform="translate(267,196) scale(1,1)" font-family='"Liberation Sans", Arial, sans-serif' font-size="12.3" fill="#000" stroke="#000" stroke-width="0.6">D</text><rect x="322.3" y="190.2" width="193.9" height="9.6" fill="#fff" stroke="#000" stroke-width="1.2"/><line x1="324.6" y1="195" x2="341" y2="195" stroke="#000" stroke-width="0.9"/><circle cx="333.3" cy="195" r="1.6" fill="#000"/><line x1="407" y1="195" x2="423" y2="195" stroke="#000" stroke-width="1.2"/><line x1="475.7" y1="195" x2="491.2" y2="195" stroke="#000" stroke-width="0.9" stroke-dasharray="1,0.8"/><text x="342.9" y="196.9" font-family='"Liberation Serif", "Times New Roman", serif' font-size="5.6" fill="#000" stroke="#000" stroke-width="0.12">Observed median ED LOS</text><text x="424.2" y="196.9" font-family='"Liberation Serif", "Times New Roman", serif' font-size="5.6" fill="#000" stroke="#000" stroke-width="0.12">Observed trend post</text><text x="492.4" y="196.9" font-family='"Liberation Serif", "Times New Roman", serif' font-size="5.6" fill="#000" stroke="#000" stroke-width="0.12">Predicted</text></g>
</svg></body></html>
